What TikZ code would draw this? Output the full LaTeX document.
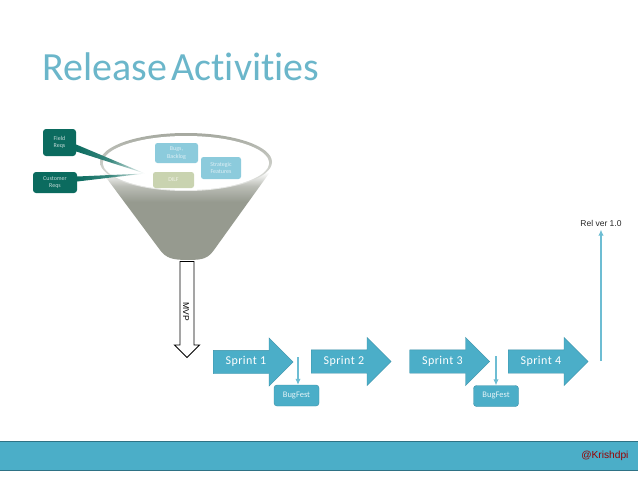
\documentclass[tikz,border=0pt]{standalone}
\usepackage{fontspec}
\setmainfont{Carlito}
\newfontfamily\titlefont[Ligatures=NoCommon]{Carlito}
\newfontfamily\arialfont{Liberation Sans}
\newfontfamily\sprintfont[LetterSpace=4]{Carlito}
\usetikzlibrary{shapes.arrows,arrows.meta}
\definecolor{sprintblue}{HTML}{4BAEC8}
\definecolor{sprintedge}{HTML}{3A8FA6}
\definecolor{titleblue}{HTML}{6BB6CA}
\definecolor{reqgreen}{HTML}{0B6B5F}
\definecolor{paleblue}{HTML}{8CCBDC}
\definecolor{palegreen}{HTML}{C9D3B0}
\definecolor{funnelgrey}{HTML}{969A8F}
\definecolor{thinblue}{HTML}{6DBDD3}
\pgfdeclareverticalshading{funnelbody}{100bp}{color(0bp)=(funnelgrey); color(58bp)=(funnelgrey); color(67bp)=(funnelgrey!65!white); color(75bp)=(white); color(100bp)=(white)}
\tikzset{
  sprintarrow/.style={single arrow,anchor=tail,draw=sprintedge,fill=sprintblue,text=white,
    minimum height=80pt,minimum width=48pt,single arrow head extend=12.5pt,
    text height=7pt,text depth=2pt,inner ysep=7pt,inner xsep=0pt,
    font=\sprintfont\fontsize{12}{12}\selectfont},
  bugbox/.style={draw=sprintedge,fill=sprintblue,text=white!85!sprintblue,rounded corners=3pt,
    minimum width=45pt,minimum height=21pt,inner sep=0pt,font=\fontsize{8.5}{9}\selectfont},
  reqbox/.style={fill=reqgreen,text=white!75!reqgreen,rounded corners=3pt,align=center,
    inner sep=0pt,font=\fontsize{6}{7.5}\selectfont},
  topicbox/.style={fill=paleblue,text=white!70!paleblue,rounded corners=2.5pt,align=center,
    inner sep=0pt,font=\fontsize{6}{7.5}\selectfont},
  thinarrow/.style={draw=thinblue,line width=1.1pt,-{Latex[length=6pt,width=5.5pt]}}
}
\begin{document}
\begin{tikzpicture}[x=1pt,y=-1pt]
  \useasboundingbox (0,0) rectangle (638,479);
  \node [text=titleblue,font=\titlefont\fontsize{40}{44}\selectfont] (title) at (181,67) {Release\hspace{0.1em}Activities};
  % funnel
  \shade [shading=funnelbody]
    (102,172) -- (160,250)
    .. controls (166,258) and (172,260) .. (188,260)
    .. controls (204,260) and (208,258) .. (214,250)
    -- (270,172) -- cycle;
  \shade [top color=funnelgrey!85!white,bottom color=funnelgrey!20!white] (186,162) ellipse (86 and 29);
  \fill [white] (186,163) ellipse (83 and 27);
  \node [topicbox,minimum width=43pt,minimum height=20pt] (bugs) at (176.5,153) {Bugs,\\Backlog};
  \node [topicbox,minimum width=40pt,minimum height=22pt] (strategic) at (221,168) {Strategic\\Features};
  \node [topicbox,fill=palegreen,text=white!70!palegreen,minimum width=41pt,minimum height=16pt] (dilf) at (173.5,180) {DILF};
  % requirements
  \node [reqbox,minimum width=33pt,minimum height=27pt] (field) at (59.5,142.5) {Field\\Reqs};
  \node [reqbox,minimum width=44pt,minimum height=21pt] (customer) at (55,182.5) {Customer\\Reqs};
  \coordinate (reqtip) at (145,173.5);
  \shade [left color=reqgreen,right color=white,middle color=reqgreen!80!white]
    ([yshift=-2pt]field.east) -- (reqtip) -- ([yshift=-9pt]field.east) -- cycle;
  \shade [left color=reqgreen,right color=white,middle color=reqgreen!80!white]
    ([yshift=6pt]customer.east) -- (reqtip) -- ([yshift=1pt]customer.east) -- cycle;
  % MVP
  \node [single arrow,rotate=-90,anchor=tail,draw=black,fill=white,line width=0.9pt,
    minimum height=96pt,minimum width=25pt,single arrow head extend=5.5pt,
    text height=0pt,text depth=0pt,inner ysep=6.5pt,inner xsep=0pt] (mvp) at (187,261) {};
  \node [rotate=-90,font=\arialfont\fontsize{8.5}{9}\selectfont] (mvplabel) at (186,312) {MVP};
  % sprints
  \node [sprintarrow] (sprintA) at (213,362) {Sprint 1\hspace*{3pt}};
  \node [sprintarrow] (sprintB) at (311,361.5) {Sprint 2\hspace*{3pt}};
  \node [sprintarrow] (sprintC) at (409.5,361.5) {Sprint 3\hspace*{3pt}};
  \node [sprintarrow] (sprintD) at (508,361.5) {Sprint 4\hspace*{3pt}};
  \node [bugbox] (bugA) at (296.5,395.5) {BugFest};
  \node [bugbox] (bugB) at (496,396) {BugFest};
  \coordinate (bugAstart) at (298,357);
  \coordinate (bugBstart) at (496,356);
  \draw [thinarrow] (bugAstart) -- (bugAstart |- bugA.north);
  \draw [thinarrow] (bugBstart) -- (bugB.north);
  % release
  \node [text=black!85,font=\arialfont\fontsize{8.5}{9}\selectfont] (rel) at (601,223) {Rel ver 1.0};
  \coordinate (relstart) at (601,361);
  \draw [thinarrow] (relstart) -- (rel.south);
  % footer
  \node [draw=sprintedge!80!black,fill=sprintblue,minimum width=640pt,minimum height=29pt,inner sep=0pt] (bar) at (319,455.5) {};
  \node [anchor=east,text=red!60!black,font=\arialfont\fontsize{10.2}{11}\selectfont] (handle) at (632,456) {@Krishdpi};
\end{tikzpicture}
\end{document}
